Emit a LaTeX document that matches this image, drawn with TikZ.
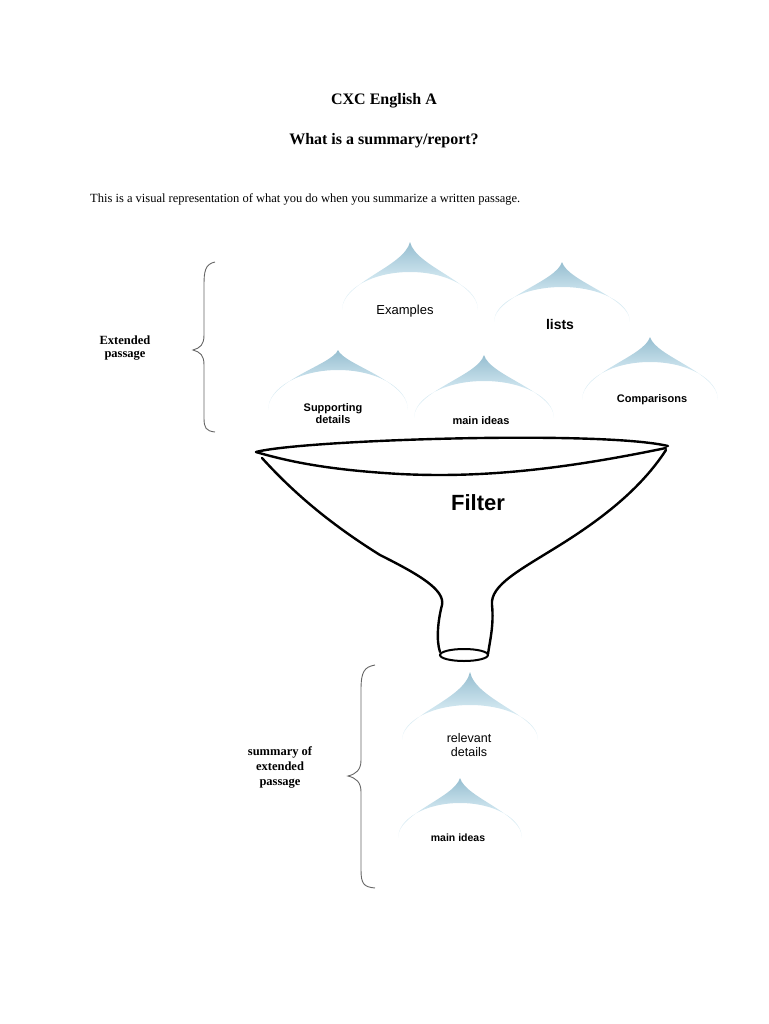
\documentclass[tikz,border=0pt]{standalone}
\usepackage{fontspec}
\setmainfont{Liberation Serif}
\newfontfamily\sans{Liberation Sans}
\begin{document}
\begin{tikzpicture}[x=1pt,y=-1pt,
  lab/.style={fill=white,inner sep=2pt,font=\sans\fontsize{13}{14}\selectfont,align=center},
  brace/.style={draw=black!60,line width=0.9pt},
  funnel/.style={draw=black,line width=2.4pt,line join=round,line cap=round}]
\useasboundingbox (0,0) rectangle (768,1024);
\newcommand{\drop}[5]{% cx, cy, rx, ry, tipy
  \shade[top color={rgb,255:red,150;green,190;blue,208},bottom color={rgb,255:red,236;green,246;blue,250},middle color={rgb,255:red,205;green,228;blue,238}]
   (#1,#5) .. controls (#1+6,#2-#4-5) and (#1+#3,#2-#4+10) .. (#1+#3,#2)
   arc[start angle=0,end angle=180,x radius=#3,y radius=-#4]
   .. controls (#1-#3,#2-#4+10) and (#1-6,#2-#4-5) .. (#1,#5) -- cycle;}
% titles
\node[font=\bfseries\fontsize{16}{18}\selectfont] (t1) at (384,101) {CXC English A};
\node[font=\bfseries\fontsize{16}{18}\selectfont] (t2) at (384,141) {What is a summary/report?};
\node[anchor=west,font=\fontsize{12.5}{14}\selectfont,inner sep=0] (p) at (90,199) {This is a visual representation of what you do when you summarize a written passage.};
% funnel
\draw[funnel] (256,452) .. controls (300,440) and (600,430) .. (668,446);
\draw[funnel] (256,452) .. controls (290,462) and (330,470) .. (400,474) .. controls (480,478) and (560,470) .. (666,448);
\draw[funnel] (262,458) .. controls (300,500) and (340,530) .. (380,555) .. controls (420,575) and (445,590) .. (442,605) .. controls (438,620) and (436,640) .. (440,652);
\draw[funnel] (666,450) .. controls (640,490) and (600,520) .. (560,545) .. controls (520,570) and (490,585) .. (492,605) .. controls (494,625) and (490,640) .. (488,654);
\draw[line width=2pt] (464,655) ellipse[x radius=24,y radius=6];
\node[font=\sans\bfseries\fontsize{22}{24}\selectfont] (filt) at (478,503) {Filter};
% drops
\drop{410}{310}{68}{38}{242}
\drop{562}{322}{68}{35}{262}
\drop{338}{410}{70}{40}{350}
\drop{484}{418}{70}{37}{355}
\drop{650}{400}{68}{38}{337}
\drop{470}{740}{68}{35}{672}
\drop{460}{838}{62}{35}{778}
\node[lab,minimum width=115pt] (ex) at (405,311) {Examples};
\node[lab,minimum width=99pt,font=\sans\bfseries\fontsize{14}{15}\selectfont] (li) at (560,324) {lists};
\node[lab,minimum width=95pt,font=\sans\bfseries\fontsize{11}{12}\selectfont] (sd) at (333,414) {Supporting\\details};
\node[lab,minimum width=114pt,font=\sans\bfseries\fontsize{11}{12}\selectfont] (mi) at (481,421) {main ideas};
\node[lab,minimum width=110pt,minimum height=30pt,font=\sans\bfseries\fontsize{11}{12}\selectfont] (co) at (652,400) {Comparisons};
\node[lab,minimum width=94pt,font=\sans\fontsize{12.5}{14}\selectfont] (rd) at (469,745) {relevant\\details};
\node[font=\sans\bfseries\fontsize{10.5}{12}\selectfont] (mi2) at (458,838) {main ideas};
% braces
\draw[brace] (215,262) .. controls (205,264) and (204,272) .. (204,285) -- (204,335) .. controls (204,345) and (200,348) .. (193,350) .. controls (200,352) and (204,355) .. (204,365) -- (204,418) .. controls (204,428) and (206,431) .. (215,432);
\draw[brace] (375,665) .. controls (364,667) and (361,672) .. (361,690) -- (361,760) .. controls (361,770) and (356,774) .. (348,776) .. controls (356,778) and (361,782) .. (361,792) -- (361,870) .. controls (361,884) and (364,887) .. (375,888);
\node[font=\bfseries\fontsize{12.5}{13}\selectfont,align=center] (ep) at (125,348) {Extended\\passage};
\node[font=\bfseries\fontsize{12.5}{15}\selectfont,align=center] (sp) at (280,767) {summary of\\extended\\passage};
\end{tikzpicture}
\end{document}
